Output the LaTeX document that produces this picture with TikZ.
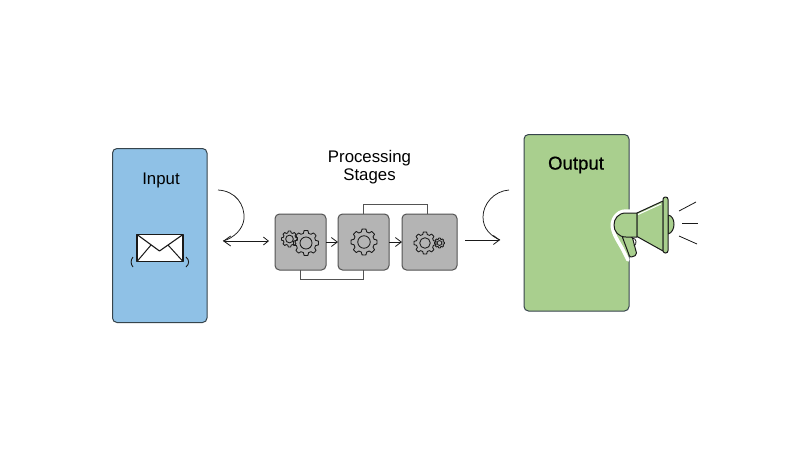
\documentclass[tikz,border=0pt]{standalone}
\usepackage{fontspec}
\setmainfont{Liberation Sans}
\newfontfamily\medfont[FakeBold=0.6]{Liberation Sans}
\usetikzlibrary{arrows.meta,calc}
\definecolor{inblue}{HTML}{8FC1E6}
\definecolor{outgreen}{HTML}{A9CF8E}
\definecolor{stagegray}{HTML}{B4B4B4}
\definecolor{edge}{HTML}{36444C}
\definecolor{ink}{HTML}{1A1A1A}
\tikzset{
  panel/.style={draw=edge,line width=1pt,rounded corners=4.5pt,inner sep=0pt,outer sep=0pt},
  stagebox/.style={panel,fill=stagegray,draw=ink!75,minimum height=56pt},
  lbl/.style={inner sep=0pt,text=black,align=center},
  link/.style={draw=ink,line width=0.75pt},
  open/.style={-{Straight Barb[length=6pt,width=9pt,line width=0.8pt]}},
  twoway/.style={{Straight Barb[length=7pt,width=10pt,line width=0.8pt]}-{Straight Barb[length=5pt,width=8pt,line width=0.8pt]}},
  wiring/.style={draw=ink!75,line width=0.9pt},
  megaline/.style={draw=ink,line width=1pt,line join=round},
  rays/.style={draw=ink,line width=0.8pt}
}
% gear outline: centre x, y, outer radius
\newcommand{\gearshape}[3]{%
  \draw[draw=ink,line width=0.85pt,line join=round]
    (#1+#3,#2)
    \foreach \k in {0,...,7} {
      -- ({#1+#3*cos(\k*45+9)},{#2+#3*sin(\k*45+9)})
      -- ({#1+0.8*#3*cos(\k*45+15)},{#2+0.8*#3*sin(\k*45+15)})
      -- ({#1+0.8*#3*cos(\k*45+30)},{#2+0.8*#3*sin(\k*45+30)})
      -- ({#1+#3*cos(\k*45+36)},{#2+#3*sin(\k*45+36)})
      -- ({#1+#3*cos(\k*45+45)},{#2+#3*sin(\k*45+45)})
    } -- cycle;
  \draw[draw=ink,line width=0.85pt] (#1,#2) circle ({0.48*#3});
}
\begin{document}
\begin{tikzpicture}[x=1pt,y=-1pt]
\useasboundingbox (0,0) rectangle (800,450);
\fill[white] (0,0) rectangle (800,450);

% main panels
\node[panel,fill=inblue,minimum width=94.5pt,minimum height=174pt] (input) at (159.75,235.5) {};
\node[panel,fill=outgreen,minimum width=105pt,minimum height=176.5pt] (output) at (576.5,222.75) {};
\node[lbl,font=\fontsize{16.8}{18}\selectfont] (inlabel) at (161,180) {Input};
\node[lbl,font=\fontsize{18.6}{20}\medfont] (outlabel) at (576,165) {Output};
\node[lbl,font=\fontsize{16.8}{18}\selectfont] (proclabel) at (369.5,167) {Processing\\Stages};

% stages
\node[stagebox,minimum width=51pt] (s1) at (300.5,242) {};
\node[stagebox,minimum width=51pt] (s2) at (363.5,242) {};
\node[stagebox,minimum width=55pt] (s3) at (429.5,242) {};

% stage connectors
\draw[link,open] (s1.east) -- (s2.west);
\draw[link,open] (s2.east) -- (s3.west);
\draw[wiring] (s1.south) -- ++(0,9) -| (s2.south);
\draw[wiring] (s2.north) -- ++(0,-10) -| ($(s3.north)+(-2.5,0)$);

% gears
\gearshape{289.5}{239}{8}
\gearshape{306}{243}{12.5}
\gearshape{364}{242}{13}
\gearshape{425}{243}{11}
\gearshape{439.5}{243}{5}

% input side connectors
\coordinate (instart) at (218,190);
\coordinate (intip) at (223,241);
\coordinate (s1port) at ($(s1.west)+(-6,-1)$);
\draw[link] (instart) .. controls (236,191) and (245,205) .. (244,219)
                      .. controls (243,229) and (234,238) .. (intip);
\draw[link,twoway] (intip) -- (s1port);

% output side connectors
\coordinate (outstart) at (509,190);
\coordinate (outtip) at (500,240);
\coordinate (s3port) at ($(s3.east)+(8,-2)$);
\draw[link] (outstart) .. controls (494,191) and (483,204) .. (483,217)
                       .. controls (483,229) and (491,236) .. (outtip);
\draw[link,open] (s3port) -- (outtip);

% envelope
\draw[draw=ink,fill=white,line width=1.1pt,line join=round] (137,234.5) rectangle (183,261.5);
\draw[draw=ink,line width=1.1pt,line join=round] (137,234.5) -- (159.5,251) -- (183,234.5);
\draw[draw=ink,line width=1pt] (137,261.5) -- (151,245) (183,261.5) -- (168,245);
\draw[draw=ink,line width=0.9pt] (133,257) .. controls (130.5,260) and (130.5,264) .. (133,267);
\draw[draw=ink,line width=0.9pt] (186,257) .. controls (189.5,260) and (189.5,264) .. (186,267);

% megaphone: white halo
\draw[white,line width=3.5pt,line cap=round,line join=round]
  (637,211) -- (626,211) .. controls (616,211) and (611,221) .. (612.5,228)
  .. controls (614,236) and (620,244) .. (623,250) -- (628,260);
% dome
\draw[megaline,fill=outgreen] (668,215) .. controls (676,216) and (676,232) .. (668,234) -- cycle;
% handle
\draw[megaline,fill=outgreen,rounded corners=2pt] (622,236) -- (630,257.5) -- (637,255) -- (632,236) -- cycle;
\draw[megaline,line width=0.8pt] (632,238) .. controls (637,238) and (637,244) .. (634,246);
% rear cylinder
\draw[megaline,fill=outgreen] (637,213) -- (626,213) .. controls (610,213) and (610,237) .. (626,237) -- (637,237) -- cycle;
% cone
\draw[megaline,fill=outgreen] (637,213) -- (663,201) -- (663,251) -- (637,236.5) -- cycle;
\draw[white,line width=1pt] (638,214.5) -- (661,204);
% band
\draw[megaline,fill=outgreen,rounded corners=2.4pt] (663,197) rectangle (668,253);
% rays
\draw[rays] (679,211) -- (696,202);
\draw[rays] (682,223) -- (698,223);
\draw[rays] (679,236) -- (697,244);
\end{tikzpicture}
\end{document}
